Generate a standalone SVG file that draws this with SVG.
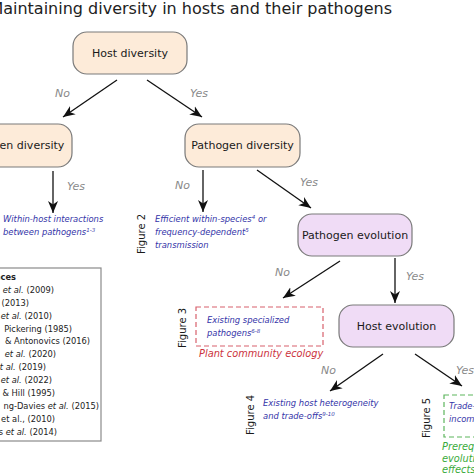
<svg xmlns="http://www.w3.org/2000/svg" width="474" height="474" viewBox="0 0 474 474">
<style>
text{font-family:"DejaVu Sans","Liberation Sans",sans-serif}
.title{font-size:16px;fill:#222}
.node{stroke:#7a7a7a;stroke-width:1.2}
.peach{fill:#fdebd9}
.purple{fill:#f0dcf6}
.ntext{font-size:11px;fill:#1a1a1a;text-anchor:middle}
.lbl{font-size:11px;fill:#8a8a8a;font-style:italic}
.blue{font-size:8.4px;fill:#3434a8;font-style:italic}
.red{font-size:9.8px;fill:#cc3340;font-style:italic}
.green{font-size:9.8px;fill:#3aaa3a;font-style:italic}
.fig{font-size:10px;fill:#1a1a1a}
.ref{font-size:8.3px;fill:#222;text-anchor:end}
.conn{stroke:#111;stroke-width:1.3;fill:none;marker-end:url(#ah)}
.sup{font-size:5.5px}
</style>
<defs>
<marker id="ah" markerUnits="userSpaceOnUse" markerWidth="14" markerHeight="11" refX="12" refY="5" orient="auto" viewBox="0 0 14 10">
<path d="M0,0 L12,5 L0,10 L3.5,5 z" fill="#111"/>
</marker>
</defs>
<rect width="474" height="474" fill="#fff"/>
<text class="title" x="392" y="14" text-anchor="end">Maintaining diversity in hosts and their pathogens</text>

<g id="connectors">
<path class="conn" d="M117,80 L63,117"/>
<path class="conn" d="M147,80 L202,117"/>
<path class="conn" d="M53,171 L53,213"/>
<path class="conn" d="M203,170 L203,212"/>
<path class="conn" d="M257,170 L311,208"/>
<path class="conn" d="M340,261 L283,298"/>
<path class="conn" d="M395,258 L395,303"/>
<path class="conn" d="M383,354 L330,391"/>
<path class="conn" d="M415,354 L462,386"/>
<text class="lbl" x="55" y="97">No</text>
<text class="lbl" x="190" y="97">Yes</text>
<text class="lbl" x="67" y="190">Yes</text>
<text class="lbl" x="175" y="189">No</text>
<text class="lbl" x="300" y="186">Yes</text>
<text class="lbl" x="275" y="276">No</text>
<text class="lbl" x="406" y="280">Yes</text>
<text class="lbl" x="321" y="374">No</text>
<text class="lbl" x="456" y="374">Yes</text>
</g>

<g id="host-diversity">
<rect class="node peach" x="73" y="32" width="114" height="42" rx="14"/>
<text class="ntext" x="130" y="56.5">Host diversity</text>
</g>

<g id="pathogen-diversity-left">
<rect class="node peach" x="-43" y="124" width="115" height="43" rx="14"/>
<text class="ntext" x="13" y="149">Pathogen diversity</text>
</g>

<g id="pathogen-diversity-right">
<rect class="node peach" x="185" y="124" width="115" height="43" rx="14"/>
<text class="ntext" x="242.5" y="149">Pathogen diversity</text>
</g>

<g id="within-host">
<text class="blue" x="3" y="222">Within-host interactions</text>
<text class="blue" x="3" y="235">between pathogens<tspan class="sup" dy="-3.5">1-3</tspan></text>
</g>

<g id="figure2">
<text class="fig" transform="translate(145,254) rotate(-90)">Figure 2</text>
<text class="blue" x="155" y="222">Efficient within-species<tspan class="sup" dy="-3.5">4</tspan><tspan dy="3.5"> or</tspan></text>
<text class="blue" x="155" y="235">frequency-dependent<tspan class="sup" dy="-3.5">5</tspan></text>
<text class="blue" x="155" y="248">transmission</text>
</g>

<g id="pathogen-evolution">
<rect class="node purple" x="298" y="214" width="114" height="42" rx="14"/>
<text class="ntext" x="355" y="239">Pathogen evolution</text>
</g>

<g id="figure3">
<text class="fig" transform="translate(185.5,348) rotate(-90)">Figure 3</text>
<rect x="196" y="307" width="127" height="39" fill="none" stroke="#d8606c" stroke-width="1.2" stroke-dasharray="5,3"/>
<text class="blue" x="207" y="323">Existing specialized</text>
<text class="blue" x="207" y="336">pathogens<tspan class="sup" dy="-3.5">6-8</tspan></text>
<text class="red" x="199" y="357">Plant community ecology</text>
</g>

<g id="host-evolution">
<rect class="node purple" x="339" y="305" width="115" height="42" rx="14"/>
<text class="ntext" x="396.5" y="330">Host evolution</text>
</g>

<g id="figure4">
<text class="fig" transform="translate(254,435) rotate(-90)">Figure 4</text>
<text class="blue" x="263" y="406">Existing host heterogeneity</text>
<text class="blue" x="263" y="419">and trade-offs<tspan class="sup" dy="-3.5">9-10</tspan></text>
</g>

<g id="figure5">
<text class="fig" transform="translate(430,438) rotate(-90)">Figure 5</text>
<rect x="444" y="395" width="60" height="42" fill="none" stroke="#5db55d" stroke-width="1.2" stroke-dasharray="5,3"/>
<text class="blue" x="449" y="409">Trade-offs and</text>
<text class="blue" x="449" y="422">incompatibilities</text>
<text class="green" x="442" y="450">Prerequisites for</text>
<text class="green" x="442" y="462">evolutionary</text>
<text class="green" x="442" y="473">effects</text>
</g>

<g id="references">
<rect x="-10" y="268" width="111" height="173" fill="#fff" stroke="#8a8a8a" stroke-width="1.2"/>
<text class="ref" x="16" y="280" font-weight="bold">References</text>
<text class="ref" x="54" y="293"><tspan font-style="italic">et al.</tspan> (2009)</text>
<text class="ref" x="29" y="306">(2013)</text>
<text class="ref" x="52" y="319"><tspan font-style="italic">et al.</tspan> (2010)</text>
<text class="ref" x="72" y="332">Pickering (1985)</text>
<text class="ref" x="90" y="344">&amp; Antonovics (2016)</text>
<text class="ref" x="56" y="357"><tspan font-style="italic">et al.</tspan> (2020)</text>
<text class="ref" x="46" y="370"><tspan font-style="italic">et al.</tspan> (2019)</text>
<text class="ref" x="52" y="383"><tspan font-style="italic">et al.</tspan> (2022)</text>
<text class="ref" x="55" y="396">&amp; Hill (1995)</text>
<text class="ref" x="99" y="409">ng-Davies <tspan font-style="italic">et al.</tspan> (2015)</text>
<text class="ref" x="55" y="422">et al., (2010)</text>
<text class="ref" x="57" y="435">s <tspan font-style="italic">et al.</tspan> (2014)</text>
</g>
</svg>
